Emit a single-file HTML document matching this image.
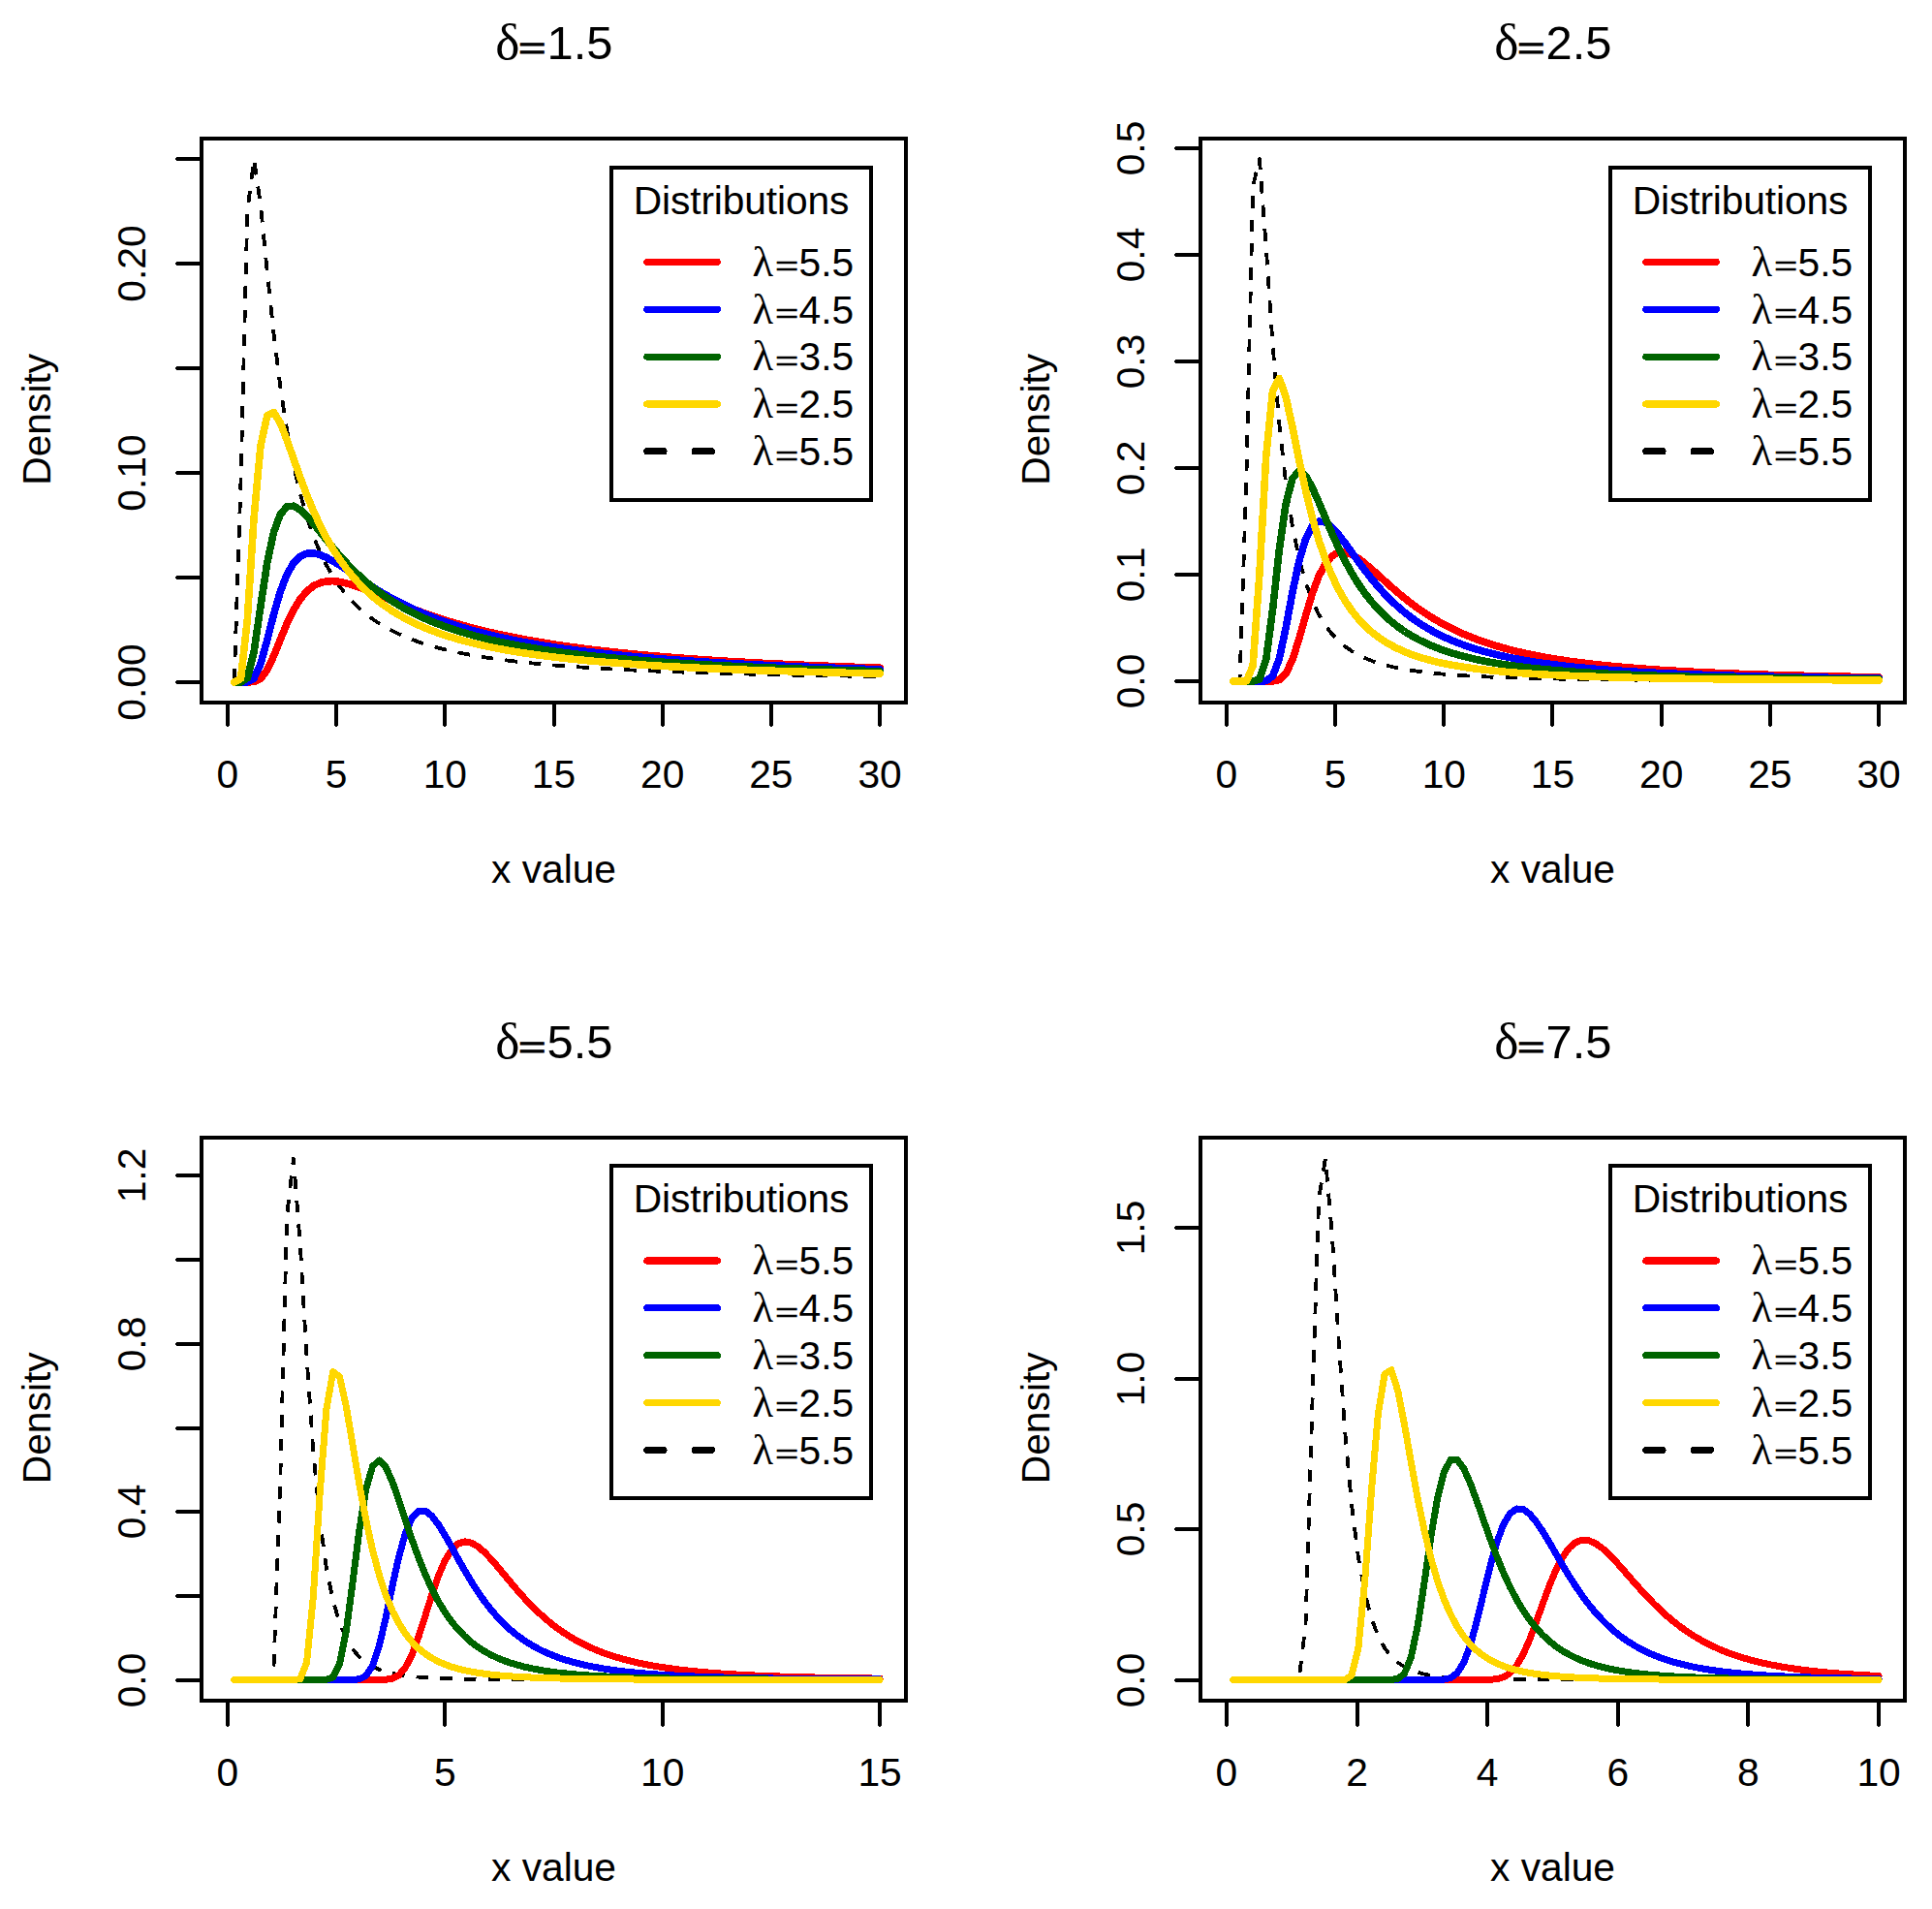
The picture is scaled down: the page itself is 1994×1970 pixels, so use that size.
<!DOCTYPE html>
<html><head><meta charset="utf-8"><title>Density plots</title>
<style>html,body{margin:0;padding:0;background:#fff}svg{display:block}text{fill:#000}</style>
</head><body>
<svg width="1994" height="1970" viewBox="0 0 1994 1970">
<rect width="1994" height="1970" fill="#fff"/>
<g shape-rendering="crispEdges">
<polyline points="241.73,703.04 248.52,495.90 255.32,217.81 262.12,164.16 268.92,211.24 275.72,280.01 282.52,344.66 289.32,399.20 296.12,443.72 302.92,479.79 309.72,509.10 316.52,533.10 323.32,552.90 330.12,569.41 336.92,583.30 343.72,595.08 350.52,605.15 357.32,613.83 364.12,621.37 370.92,627.95 377.71,633.73 384.51,638.84 391.31,643.39 398.11,647.44 404.91,651.07 411.71,654.34 418.51,657.30 425.31,659.98 432.11,662.42 438.91,664.64 445.71,666.68 452.51,668.56 459.31,670.28 466.11,671.87 472.91,673.34 479.71,674.71 486.51,675.98 493.31,677.16 500.11,678.26 506.90,679.29 513.70,680.25 520.50,681.15 527.30,682.00 534.10,682.79 540.90,683.55 547.70,684.25 554.50,684.92 561.30,685.55 568.10,686.15 574.90,686.72 581.70,687.25 588.50,687.76 595.30,688.25 602.10,688.71 608.90,689.15 615.70,689.57 622.50,689.97 629.30,690.35 636.10,690.71 642.89,691.06 649.69,691.40 656.49,691.72 663.29,692.02 670.09,692.32 676.89,692.60 683.69,692.87 690.49,693.13 697.29,693.38 704.09,693.62 710.89,693.85 717.69,694.08 724.49,694.29 731.29,694.50 738.09,694.70 744.89,694.89 751.69,695.08 758.49,695.26 765.29,695.43 772.08,695.60 778.88,695.77 785.68,695.92 792.48,696.08 799.28,696.22 806.08,696.37 812.88,696.51 819.68,696.64 826.48,696.77 833.28,696.90 840.08,697.02 846.88,697.14 853.68,697.26 860.48,697.37 867.28,697.48 874.08,697.59 880.88,697.69 887.68,697.79 894.48,697.89 901.27,697.99 908.07,698.08" fill="none" stroke="#000000" stroke-width="3.8" stroke-dasharray="12.6 12.1" stroke-linejoin="round"/>
<polyline points="241.73,703.91 248.52,703.91 255.32,703.91 262.12,703.54 268.92,700.38 275.72,691.34 282.52,676.88 289.32,660.00 296.12,643.64 302.92,629.57 309.72,618.47 316.52,610.33 323.32,604.82 330.12,601.49 336.92,599.89 343.72,599.63 350.52,600.36 357.32,601.83 364.12,603.82 370.92,606.18 377.71,608.77 384.51,611.51 391.31,614.32 398.11,617.15 404.91,619.96 411.71,622.74 418.51,625.45 425.31,628.08 432.11,630.63 438.91,633.09 445.71,635.45 452.51,637.72 459.31,639.90 466.11,641.99 472.91,643.99 479.71,645.90 486.51,647.73 493.31,649.48 500.11,651.15 506.90,652.75 513.70,654.28 520.50,655.74 527.30,657.14 534.10,658.48 540.90,659.76 547.70,660.99 554.50,662.17 561.30,663.30 568.10,664.38 574.90,665.42 581.70,666.42 588.50,667.38 595.30,668.30 602.10,669.18 608.90,670.03 615.70,670.85 622.50,671.64 629.30,672.39 636.10,673.13 642.89,673.83 649.69,674.51 656.49,675.16 663.29,675.79 670.09,676.40 676.89,676.99 683.69,677.56 690.49,678.11 697.29,678.65 704.09,679.16 710.89,679.66 717.69,680.14 724.49,680.61 731.29,681.06 738.09,681.50 744.89,681.92 751.69,682.33 758.49,682.73 765.29,683.12 772.08,683.50 778.88,683.86 785.68,684.22 792.48,684.56 799.28,684.90 806.08,685.22 812.88,685.54 819.68,685.85 826.48,686.15 833.28,686.44 840.08,686.73 846.88,687.00 853.68,687.27 860.48,687.53 867.28,687.79 874.08,688.04 880.88,688.28 887.68,688.52 894.48,688.75 901.27,688.98 908.07,689.20" fill="none" stroke="#FF0000" stroke-width="7.6" stroke-linejoin="round" stroke-linecap="round"/>
<polyline points="241.73,703.91 248.52,703.91 255.32,703.75 262.12,699.96 268.92,685.26 275.72,660.76 282.52,633.93 289.32,610.55 296.12,592.94 302.92,581.15 309.72,574.27 316.52,571.18 323.32,570.84 330.12,572.44 336.92,575.33 343.72,579.05 350.52,583.27 357.32,587.75 364.12,592.33 370.92,596.89 377.71,601.37 384.51,605.71 391.31,609.89 398.11,613.88 404.91,617.68 411.71,621.29 418.51,624.71 425.31,627.95 432.11,631.01 438.91,633.91 445.71,636.64 452.51,639.22 459.31,641.66 466.11,643.97 472.91,646.16 479.71,648.22 486.51,650.18 493.31,652.03 500.11,653.79 506.90,655.46 513.70,657.04 520.50,658.55 527.30,659.98 534.10,661.34 540.90,662.64 547.70,663.87 554.50,665.05 561.30,666.18 568.10,667.25 574.90,668.28 581.70,669.26 588.50,670.20 595.30,671.09 602.10,671.96 608.90,672.78 615.70,673.57 622.50,674.33 629.30,675.06 636.10,675.76 642.89,676.44 649.69,677.09 656.49,677.71 663.29,678.31 670.09,678.89 676.89,679.45 683.69,679.99 690.49,680.51 697.29,681.01 704.09,681.49 710.89,681.96 717.69,682.41 724.49,682.85 731.29,683.27 738.09,683.68 744.89,684.07 751.69,684.46 758.49,684.83 765.29,685.19 772.08,685.54 778.88,685.88 785.68,686.21 792.48,686.52 799.28,686.83 806.08,687.13 812.88,687.43 819.68,687.71 826.48,687.99 833.28,688.25 840.08,688.52 846.88,688.77 853.68,689.02 860.48,689.26 867.28,689.49 874.08,689.72 880.88,689.94 887.68,690.16 894.48,690.37 901.27,690.58 908.07,690.78" fill="none" stroke="#0000FF" stroke-width="7.6" stroke-linejoin="round" stroke-linecap="round"/>
<polyline points="241.73,703.91 248.52,703.89 255.32,699.71 262.12,672.59 268.92,625.87 275.72,581.03 282.52,549.07 289.32,530.71 296.12,522.88 302.92,522.22 309.72,526.03 316.52,532.44 323.32,540.22 330.12,548.57 336.92,557.03 343.72,565.29 350.52,573.21 357.32,580.68 364.12,587.69 370.92,594.22 377.71,600.29 384.51,605.92 391.31,611.13 398.11,615.96 404.91,620.44 411.71,624.59 418.51,628.44 425.31,632.02 432.11,635.34 438.91,638.44 445.71,641.32 452.51,644.02 459.31,646.54 466.11,648.89 472.91,651.10 479.71,653.17 486.51,655.12 493.31,656.95 500.11,658.68 506.90,660.30 513.70,661.84 520.50,663.29 527.30,664.66 534.10,665.96 540.90,667.19 547.70,668.36 554.50,669.46 561.30,670.52 568.10,671.52 574.90,672.48 581.70,673.39 588.50,674.26 595.30,675.09 602.10,675.88 608.90,676.64 615.70,677.36 622.50,678.06 629.30,678.72 636.10,679.36 642.89,679.97 649.69,680.56 656.49,681.12 663.29,681.66 670.09,682.18 676.89,682.69 683.69,683.17 690.49,683.63 697.29,684.08 704.09,684.52 710.89,684.93 717.69,685.34 724.49,685.72 731.29,686.10 738.09,686.46 744.89,686.81 751.69,687.15 758.49,687.48 765.29,687.80 772.08,688.11 778.88,688.41 785.68,688.70 792.48,688.98 799.28,689.25 806.08,689.51 812.88,689.77 819.68,690.02 826.48,690.26 833.28,690.50 840.08,690.72 846.88,690.95 853.68,691.16 860.48,691.37 867.28,691.58 874.08,691.78 880.88,691.97 887.68,692.16 894.48,692.34 901.27,692.52 908.07,692.70" fill="none" stroke="#006400" stroke-width="7.6" stroke-linejoin="round" stroke-linecap="round"/>
<polyline points="241.73,703.91 248.52,700.30 255.32,638.85 262.12,533.96 268.92,460.39 275.72,429.05 282.52,425.54 289.32,436.55 296.12,453.92 302.92,473.27 309.72,492.43 316.52,510.42 323.32,526.85 330.12,541.65 336.92,554.90 343.72,566.72 350.52,577.25 357.32,586.66 364.12,595.06 370.92,602.60 377.71,609.37 384.51,615.48 391.31,620.99 398.11,625.99 404.91,630.54 411.71,634.68 418.51,638.46 425.31,641.93 432.11,645.11 438.91,648.05 445.71,650.75 452.51,653.25 459.31,655.57 466.11,657.72 472.91,659.72 479.71,661.59 486.51,663.33 493.31,664.96 500.11,666.48 506.90,667.92 513.70,669.26 520.50,670.52 527.30,671.72 534.10,672.84 540.90,673.90 547.70,674.90 554.50,675.85 561.30,676.75 568.10,677.61 574.90,678.42 581.70,679.19 588.50,679.92 595.30,680.62 602.10,681.28 608.90,681.92 615.70,682.52 622.50,683.10 629.30,683.66 636.10,684.19 642.89,684.70 649.69,685.18 656.49,685.65 663.29,686.10 670.09,686.53 676.89,686.94 683.69,687.34 690.49,687.72 697.29,688.09 704.09,688.44 710.89,688.78 717.69,689.11 724.49,689.43 731.29,689.74 738.09,690.03 744.89,690.32 751.69,690.59 758.49,690.86 765.29,691.12 772.08,691.37 778.88,691.61 785.68,691.85 792.48,692.07 799.28,692.29 806.08,692.51 812.88,692.71 819.68,692.92 826.48,693.11 833.28,693.30 840.08,693.48 846.88,693.66 853.68,693.84 860.48,694.01 867.28,694.17 874.08,694.33 880.88,694.49 887.68,694.64 894.48,694.78 901.27,694.93 908.07,695.07" fill="none" stroke="#FFD700" stroke-width="7.6" stroke-linejoin="round" stroke-linecap="round"/>
<rect x="208" y="143" width="727.00" height="582.00" fill="none" stroke="#000" stroke-width="4"/>
<line x1="235" y1="725" x2="235" y2="749.00" stroke="#000" stroke-width="4"/>
<line x1="235" y1="749.00" x2="235" y2="750.00" stroke="#000" stroke-width="2"/>
<text x="234.93" y="812.70" font-family="'Liberation Sans', Arial, Helvetica, sans-serif" font-size="40.74" text-anchor="middle">0</text>
<line x1="347" y1="725" x2="347" y2="749.00" stroke="#000" stroke-width="4"/>
<line x1="347" y1="749.00" x2="347" y2="750.00" stroke="#000" stroke-width="2"/>
<text x="347.12" y="812.70" font-family="'Liberation Sans', Arial, Helvetica, sans-serif" font-size="40.74" text-anchor="middle">5</text>
<line x1="459" y1="725" x2="459" y2="749.00" stroke="#000" stroke-width="4"/>
<line x1="459" y1="749.00" x2="459" y2="750.00" stroke="#000" stroke-width="2"/>
<text x="459.31" y="812.70" font-family="'Liberation Sans', Arial, Helvetica, sans-serif" font-size="40.74" text-anchor="middle">10</text>
<line x1="572" y1="725" x2="572" y2="749.00" stroke="#000" stroke-width="4"/>
<line x1="572" y1="749.00" x2="572" y2="750.00" stroke="#000" stroke-width="2"/>
<text x="571.50" y="812.70" font-family="'Liberation Sans', Arial, Helvetica, sans-serif" font-size="40.74" text-anchor="middle">15</text>
<line x1="684" y1="725" x2="684" y2="749.00" stroke="#000" stroke-width="4"/>
<line x1="684" y1="749.00" x2="684" y2="750.00" stroke="#000" stroke-width="2"/>
<text x="683.69" y="812.70" font-family="'Liberation Sans', Arial, Helvetica, sans-serif" font-size="40.74" text-anchor="middle">20</text>
<line x1="796" y1="725" x2="796" y2="749.00" stroke="#000" stroke-width="4"/>
<line x1="796" y1="749.00" x2="796" y2="750.00" stroke="#000" stroke-width="2"/>
<text x="795.88" y="812.70" font-family="'Liberation Sans', Arial, Helvetica, sans-serif" font-size="40.74" text-anchor="middle">25</text>
<line x1="908" y1="725" x2="908" y2="749.00" stroke="#000" stroke-width="4"/>
<line x1="908" y1="749.00" x2="908" y2="750.00" stroke="#000" stroke-width="2"/>
<text x="908.07" y="812.70" font-family="'Liberation Sans', Arial, Helvetica, sans-serif" font-size="40.74" text-anchor="middle">30</text>
<line x1="208" y1="704" x2="182.00" y2="704" stroke="#000" stroke-width="4"/>
<line x1="182.00" y1="704" x2="181.00" y2="704" stroke="#000" stroke-width="2"/>
<text transform="translate(150.00,704.00) rotate(-90)" font-family="'Liberation Sans', Arial, Helvetica, sans-serif" font-size="40.74" text-anchor="middle">0.00</text>
<line x1="208" y1="596" x2="182.00" y2="596" stroke="#000" stroke-width="4"/>
<line x1="182.00" y1="596" x2="181.00" y2="596" stroke="#000" stroke-width="2"/>
<line x1="208" y1="488" x2="182.00" y2="488" stroke="#000" stroke-width="4"/>
<line x1="182.00" y1="488" x2="181.00" y2="488" stroke="#000" stroke-width="2"/>
<text transform="translate(150.00,488.00) rotate(-90)" font-family="'Liberation Sans', Arial, Helvetica, sans-serif" font-size="40.74" text-anchor="middle">0.10</text>
<line x1="208" y1="380" x2="182.00" y2="380" stroke="#000" stroke-width="4"/>
<line x1="182.00" y1="380" x2="181.00" y2="380" stroke="#000" stroke-width="2"/>
<line x1="208" y1="272" x2="182.00" y2="272" stroke="#000" stroke-width="4"/>
<line x1="182.00" y1="272" x2="181.00" y2="272" stroke="#000" stroke-width="2"/>
<text transform="translate(150.00,272.00) rotate(-90)" font-family="'Liberation Sans', Arial, Helvetica, sans-serif" font-size="40.74" text-anchor="middle">0.20</text>
<line x1="208" y1="164" x2="182.00" y2="164" stroke="#000" stroke-width="4"/>
<line x1="182.00" y1="164" x2="181.00" y2="164" stroke="#000" stroke-width="2"/>
<text x="571.50" y="911.00" font-family="'Liberation Sans', Arial, Helvetica, sans-serif" font-size="40.74" text-anchor="middle">x value</text>
<text transform="translate(52.00,432.80) rotate(-90)" font-family="'Liberation Sans', Arial, Helvetica, sans-serif" font-size="40.74" text-anchor="middle">Density</text>
<text x="511.30" y="60.50" font-family="'Liberation Serif', 'Times New Roman', serif" font-size="53.5">δ</text>
<text transform="translate(535.08,60.01) scale(1.0,0.656)" stroke="#000" stroke-width="1.27" font-family="'Liberation Sans', Arial, Helvetica, sans-serif" font-size="48.9">=</text>
<text x="564.50" y="60.50" font-family="'Liberation Sans', Arial, Helvetica, sans-serif" font-size="48.9">1.5</text>
<rect x="631.00" y="173.00" width="268.00" height="343.00" fill="#fff" stroke="#000" stroke-width="4"/>
<text x="765.00" y="220.80" font-family="'Liberation Sans', Arial, Helvetica, sans-serif" font-size="40.74" text-anchor="middle" letter-spacing="-0.12">Distributions</text>
<line x1="667.90" y1="270.40" x2="740.30" y2="270.40" stroke="#FF0000" stroke-width="7.2" stroke-linecap="round"/>
<text x="776.60" y="284.70" font-family="'Liberation Serif', 'Times New Roman', serif" font-size="44.5">λ</text>
<text transform="translate(800.30,284.29) scale(1.0,0.656)" stroke="#000" stroke-width="1.06" font-family="'Liberation Sans', Arial, Helvetica, sans-serif" font-size="40.74">=</text>
<text x="824.60" y="284.70" font-family="'Liberation Sans', Arial, Helvetica, sans-serif" font-size="40.74">5.5</text>
<line x1="667.90" y1="319.25" x2="740.30" y2="319.25" stroke="#0000FF" stroke-width="7.2" stroke-linecap="round"/>
<text x="776.60" y="333.55" font-family="'Liberation Serif', 'Times New Roman', serif" font-size="44.5">λ</text>
<text transform="translate(800.30,333.14) scale(1.0,0.656)" stroke="#000" stroke-width="1.06" font-family="'Liberation Sans', Arial, Helvetica, sans-serif" font-size="40.74">=</text>
<text x="824.60" y="333.55" font-family="'Liberation Sans', Arial, Helvetica, sans-serif" font-size="40.74">4.5</text>
<line x1="667.90" y1="368.10" x2="740.30" y2="368.10" stroke="#006400" stroke-width="7.2" stroke-linecap="round"/>
<text x="776.60" y="382.40" font-family="'Liberation Serif', 'Times New Roman', serif" font-size="44.5">λ</text>
<text transform="translate(800.30,381.99) scale(1.0,0.656)" stroke="#000" stroke-width="1.06" font-family="'Liberation Sans', Arial, Helvetica, sans-serif" font-size="40.74">=</text>
<text x="824.60" y="382.40" font-family="'Liberation Sans', Arial, Helvetica, sans-serif" font-size="40.74">3.5</text>
<line x1="667.90" y1="416.95" x2="740.30" y2="416.95" stroke="#FFD700" stroke-width="7.2" stroke-linecap="round"/>
<text x="776.60" y="431.25" font-family="'Liberation Serif', 'Times New Roman', serif" font-size="44.5">λ</text>
<text transform="translate(800.30,430.84) scale(1.0,0.656)" stroke="#000" stroke-width="1.06" font-family="'Liberation Sans', Arial, Helvetica, sans-serif" font-size="40.74">=</text>
<text x="824.60" y="431.25" font-family="'Liberation Sans', Arial, Helvetica, sans-serif" font-size="40.74">2.5</text>
<line x1="667.90" y1="465.80" x2="685.00" y2="465.80" stroke="#000000" stroke-width="7.2" stroke-linecap="round"/>
<line x1="717.10" y1="465.80" x2="734.40" y2="465.80" stroke="#000000" stroke-width="7.2" stroke-linecap="round"/>
<text x="776.60" y="480.10" font-family="'Liberation Serif', 'Times New Roman', serif" font-size="44.5">λ</text>
<text transform="translate(800.30,479.69) scale(1.0,0.656)" stroke="#000" stroke-width="1.06" font-family="'Liberation Sans', Arial, Helvetica, sans-serif" font-size="40.74">=</text>
<text x="824.60" y="480.10" font-family="'Liberation Sans', Arial, Helvetica, sans-serif" font-size="40.74">5.5</text>
</g>
<g shape-rendering="crispEdges">
<polyline points="1272.73,703.04 1279.52,701.44 1286.32,496.57 1293.12,192.34 1299.92,164.16 1306.72,255.19 1313.52,355.70 1320.32,437.21 1327.12,498.24 1333.92,543.13 1340.72,576.26 1347.52,601.00 1354.32,619.74 1361.12,634.15 1367.92,645.39 1374.72,654.29 1381.52,661.41 1388.32,667.19 1395.12,671.92 1401.92,675.83 1408.71,679.10 1415.51,681.85 1422.31,684.18 1429.11,686.17 1435.91,687.89 1442.71,689.37 1449.51,690.65 1456.31,691.78 1463.11,692.77 1469.91,693.64 1476.71,694.41 1483.51,695.10 1490.31,695.71 1497.11,696.26 1503.91,696.75 1510.71,697.20 1517.51,697.60 1524.31,697.96 1531.11,698.30 1537.90,698.60 1544.70,698.87 1551.50,699.13 1558.30,699.36 1565.10,699.57 1571.90,699.77 1578.70,699.95 1585.50,700.12 1592.30,700.27 1599.10,700.42 1605.90,700.55 1612.70,700.67 1619.50,700.79 1626.30,700.90 1633.10,701.00 1639.90,701.09 1646.70,701.18 1653.50,701.26 1660.30,701.34 1667.10,701.42 1673.89,701.48 1680.69,701.55 1687.49,701.61 1694.29,701.67 1701.09,701.72 1707.89,701.77 1714.69,701.82 1721.49,701.87 1728.29,701.91 1735.09,701.95 1741.89,701.99 1748.69,702.03 1755.49,702.07 1762.29,702.10 1769.09,702.13 1775.89,702.16 1782.69,702.19 1789.49,702.22 1796.29,702.25 1803.08,702.27 1809.88,702.30 1816.68,702.32 1823.48,702.34 1830.28,702.37 1837.08,702.39 1843.88,702.41 1850.68,702.42 1857.48,702.44 1864.28,702.46 1871.08,702.48 1877.88,702.49 1884.68,702.51 1891.48,702.52 1898.28,702.54 1905.08,702.55 1911.88,702.56 1918.68,702.58 1925.48,702.59 1932.27,702.60 1939.07,702.61" fill="none" stroke="#000000" stroke-width="3.8" stroke-dasharray="12.6 12.1" stroke-linejoin="round"/>
<polyline points="1272.73,703.04 1279.52,703.04 1286.32,703.04 1293.12,703.04 1299.92,703.04 1306.72,703.04 1313.52,702.94 1320.32,701.52 1327.12,695.17 1333.92,680.81 1340.72,659.49 1347.52,635.42 1354.32,612.89 1361.12,594.63 1367.92,581.63 1374.72,573.73 1381.52,570.15 1388.32,569.97 1395.12,572.27 1401.92,576.29 1408.71,581.42 1415.51,587.20 1422.31,593.30 1429.11,599.48 1435.91,605.57 1442.71,611.47 1449.51,617.11 1456.31,622.46 1463.11,627.49 1469.91,632.20 1476.71,636.60 1483.51,640.70 1490.31,644.51 1497.11,648.04 1503.91,651.33 1510.71,654.37 1517.51,657.20 1524.31,659.82 1531.11,662.25 1537.90,664.51 1544.70,666.62 1551.50,668.57 1558.30,670.39 1565.10,672.09 1571.90,673.67 1578.70,675.15 1585.50,676.53 1592.30,677.82 1599.10,679.02 1605.90,680.15 1612.70,681.21 1619.50,682.21 1626.30,683.14 1633.10,684.02 1639.90,684.85 1646.70,685.63 1653.50,686.36 1660.30,687.06 1667.10,687.71 1673.89,688.33 1680.69,688.91 1687.49,689.47 1694.29,689.99 1701.09,690.49 1707.89,690.96 1714.69,691.40 1721.49,691.83 1728.29,692.23 1735.09,692.62 1741.89,692.98 1748.69,693.33 1755.49,693.66 1762.29,693.98 1769.09,694.28 1775.89,694.57 1782.69,694.84 1789.49,695.11 1796.29,695.36 1803.08,695.60 1809.88,695.83 1816.68,696.05 1823.48,696.26 1830.28,696.46 1837.08,696.66 1843.88,696.84 1850.68,697.02 1857.48,697.19 1864.28,697.36 1871.08,697.52 1877.88,697.67 1884.68,697.82 1891.48,697.96 1898.28,698.09 1905.08,698.22 1911.88,698.35 1918.68,698.47 1925.48,698.59 1932.27,698.70 1939.07,698.81" fill="none" stroke="#FF0000" stroke-width="7.6" stroke-linejoin="round" stroke-linecap="round"/>
<polyline points="1272.73,703.04 1279.52,703.04 1286.32,703.04 1293.12,703.04 1299.92,703.04 1306.72,702.66 1313.52,697.71 1320.32,679.76 1327.12,648.04 1333.92,611.41 1340.72,579.22 1347.52,556.22 1354.32,543.00 1361.12,537.99 1367.92,539.04 1374.72,544.14 1381.52,551.70 1388.32,560.58 1395.12,570.00 1401.92,579.43 1408.71,588.58 1415.51,597.25 1422.31,605.36 1429.11,612.86 1435.91,619.77 1442.71,626.09 1449.51,631.87 1456.31,637.14 1463.11,641.95 1469.91,646.32 1476.71,650.31 1483.51,653.96 1490.31,657.28 1497.11,660.32 1503.91,663.10 1510.71,665.64 1517.51,667.98 1524.31,670.13 1531.11,672.10 1537.90,673.92 1544.70,675.60 1551.50,677.15 1558.30,678.59 1565.10,679.92 1571.90,681.15 1578.70,682.30 1585.50,683.36 1592.30,684.35 1599.10,685.28 1605.90,686.14 1612.70,686.95 1619.50,687.70 1626.30,688.41 1633.10,689.08 1639.90,689.70 1646.70,690.28 1653.50,690.83 1660.30,691.35 1667.10,691.84 1673.89,692.30 1680.69,692.74 1687.49,693.15 1694.29,693.54 1701.09,693.90 1707.89,694.25 1714.69,694.58 1721.49,694.90 1728.29,695.19 1735.09,695.48 1741.89,695.75 1748.69,696.00 1755.49,696.24 1762.29,696.48 1769.09,696.70 1775.89,696.91 1782.69,697.11 1789.49,697.30 1796.29,697.49 1803.08,697.66 1809.88,697.83 1816.68,697.99 1823.48,698.14 1830.28,698.29 1837.08,698.43 1843.88,698.57 1850.68,698.70 1857.48,698.82 1864.28,698.94 1871.08,699.06 1877.88,699.17 1884.68,699.28 1891.48,699.38 1898.28,699.48 1905.08,699.57 1911.88,699.66 1918.68,699.75 1925.48,699.84 1932.27,699.92 1939.07,700.00" fill="none" stroke="#0000FF" stroke-width="7.6" stroke-linejoin="round" stroke-linecap="round"/>
<polyline points="1272.73,703.04 1279.52,703.04 1286.32,703.04 1293.12,703.04 1299.92,701.06 1306.72,680.58 1313.52,629.04 1320.32,567.41 1327.12,519.75 1333.92,493.74 1340.72,486.22 1347.52,491.10 1354.32,503.02 1361.12,518.26 1367.92,534.50 1374.72,550.44 1381.52,565.41 1388.32,579.10 1395.12,591.43 1401.92,602.45 1408.71,612.23 1415.51,620.90 1422.31,628.57 1429.11,635.37 1435.91,641.40 1442.71,646.75 1449.51,651.52 1456.31,655.76 1463.11,659.56 1469.91,662.96 1476.71,666.02 1483.51,668.77 1490.31,671.25 1497.11,673.50 1503.91,675.53 1510.71,677.38 1517.51,679.07 1524.31,680.60 1531.11,682.01 1537.90,683.30 1544.70,684.48 1551.50,685.56 1558.30,686.57 1565.10,687.49 1571.90,688.34 1578.70,689.14 1585.50,689.87 1592.30,690.55 1599.10,691.18 1605.90,691.77 1612.70,692.32 1619.50,692.84 1626.30,693.32 1633.10,693.77 1639.90,694.19 1646.70,694.58 1653.50,694.95 1660.30,695.30 1667.10,695.63 1673.89,695.94 1680.69,696.23 1687.49,696.51 1694.29,696.77 1701.09,697.01 1707.89,697.24 1714.69,697.47 1721.49,697.67 1728.29,697.87 1735.09,698.06 1741.89,698.24 1748.69,698.41 1755.49,698.57 1762.29,698.72 1769.09,698.87 1775.89,699.01 1782.69,699.14 1789.49,699.27 1796.29,699.39 1803.08,699.51 1809.88,699.62 1816.68,699.73 1823.48,699.83 1830.28,699.93 1837.08,700.02 1843.88,700.11 1850.68,700.19 1857.48,700.28 1864.28,700.36 1871.08,700.43 1877.88,700.50 1884.68,700.58 1891.48,700.64 1898.28,700.71 1905.08,700.77 1911.88,700.83 1918.68,700.89 1925.48,700.94 1932.27,701.00 1939.07,701.05" fill="none" stroke="#006400" stroke-width="7.6" stroke-linejoin="round" stroke-linecap="round"/>
<polyline points="1272.73,703.04 1279.52,703.04 1286.32,702.98 1293.12,687.07 1299.92,592.19 1306.72,471.14 1313.52,403.15 1320.32,390.53 1327.12,409.37 1333.92,440.77 1340.72,474.49 1347.52,506.00 1354.32,533.73 1361.12,557.43 1367.92,577.42 1374.72,594.21 1381.52,608.30 1388.32,620.15 1395.12,630.15 1401.92,638.62 1408.71,645.84 1415.51,652.02 1422.31,657.34 1429.11,661.94 1435.91,665.93 1442.71,669.41 1449.51,672.46 1456.31,675.15 1463.11,677.52 1469.91,679.63 1476.71,681.50 1483.51,683.18 1490.31,684.68 1497.11,686.02 1503.91,687.24 1510.71,688.34 1517.51,689.33 1524.31,690.24 1531.11,691.06 1537.90,691.81 1544.70,692.50 1551.50,693.13 1558.30,693.71 1565.10,694.25 1571.90,694.74 1578.70,695.19 1585.50,695.61 1592.30,696.00 1599.10,696.37 1605.90,696.70 1612.70,697.02 1619.50,697.31 1626.30,697.58 1633.10,697.84 1639.90,698.08 1646.70,698.30 1653.50,698.51 1660.30,698.71 1667.10,698.89 1673.89,699.07 1680.69,699.23 1687.49,699.39 1694.29,699.54 1701.09,699.67 1707.89,699.80 1714.69,699.93 1721.49,700.05 1728.29,700.16 1735.09,700.26 1741.89,700.36 1748.69,700.46 1755.49,700.55 1762.29,700.64 1769.09,700.72 1775.89,700.80 1782.69,700.87 1789.49,700.94 1796.29,701.01 1803.08,701.08 1809.88,701.14 1816.68,701.20 1823.48,701.25 1830.28,701.31 1837.08,701.36 1843.88,701.41 1850.68,701.46 1857.48,701.50 1864.28,701.55 1871.08,701.59 1877.88,701.63 1884.68,701.67 1891.48,701.71 1898.28,701.74 1905.08,701.78 1911.88,701.81 1918.68,701.85 1925.48,701.88 1932.27,701.91 1939.07,701.94" fill="none" stroke="#FFD700" stroke-width="7.6" stroke-linejoin="round" stroke-linecap="round"/>
<rect x="1239" y="143" width="727.00" height="582.00" fill="none" stroke="#000" stroke-width="4"/>
<line x1="1266" y1="725" x2="1266" y2="749.00" stroke="#000" stroke-width="4"/>
<line x1="1266" y1="749.00" x2="1266" y2="750.00" stroke="#000" stroke-width="2"/>
<text x="1265.93" y="812.70" font-family="'Liberation Sans', Arial, Helvetica, sans-serif" font-size="40.74" text-anchor="middle">0</text>
<line x1="1378" y1="725" x2="1378" y2="749.00" stroke="#000" stroke-width="4"/>
<line x1="1378" y1="749.00" x2="1378" y2="750.00" stroke="#000" stroke-width="2"/>
<text x="1378.12" y="812.70" font-family="'Liberation Sans', Arial, Helvetica, sans-serif" font-size="40.74" text-anchor="middle">5</text>
<line x1="1490" y1="725" x2="1490" y2="749.00" stroke="#000" stroke-width="4"/>
<line x1="1490" y1="749.00" x2="1490" y2="750.00" stroke="#000" stroke-width="2"/>
<text x="1490.31" y="812.70" font-family="'Liberation Sans', Arial, Helvetica, sans-serif" font-size="40.74" text-anchor="middle">10</text>
<line x1="1602" y1="725" x2="1602" y2="749.00" stroke="#000" stroke-width="4"/>
<line x1="1602" y1="749.00" x2="1602" y2="750.00" stroke="#000" stroke-width="2"/>
<text x="1602.50" y="812.70" font-family="'Liberation Sans', Arial, Helvetica, sans-serif" font-size="40.74" text-anchor="middle">15</text>
<line x1="1715" y1="725" x2="1715" y2="749.00" stroke="#000" stroke-width="4"/>
<line x1="1715" y1="749.00" x2="1715" y2="750.00" stroke="#000" stroke-width="2"/>
<text x="1714.69" y="812.70" font-family="'Liberation Sans', Arial, Helvetica, sans-serif" font-size="40.74" text-anchor="middle">20</text>
<line x1="1827" y1="725" x2="1827" y2="749.00" stroke="#000" stroke-width="4"/>
<line x1="1827" y1="749.00" x2="1827" y2="750.00" stroke="#000" stroke-width="2"/>
<text x="1826.88" y="812.70" font-family="'Liberation Sans', Arial, Helvetica, sans-serif" font-size="40.74" text-anchor="middle">25</text>
<line x1="1939" y1="725" x2="1939" y2="749.00" stroke="#000" stroke-width="4"/>
<line x1="1939" y1="749.00" x2="1939" y2="750.00" stroke="#000" stroke-width="2"/>
<text x="1939.07" y="812.70" font-family="'Liberation Sans', Arial, Helvetica, sans-serif" font-size="40.74" text-anchor="middle">30</text>
<line x1="1239" y1="703" x2="1213.00" y2="703" stroke="#000" stroke-width="4"/>
<line x1="1213.00" y1="703" x2="1212.00" y2="703" stroke="#000" stroke-width="2"/>
<text transform="translate(1181.00,703.00) rotate(-90)" font-family="'Liberation Sans', Arial, Helvetica, sans-serif" font-size="40.74" text-anchor="middle">0.0</text>
<line x1="1239" y1="593" x2="1213.00" y2="593" stroke="#000" stroke-width="4"/>
<line x1="1213.00" y1="593" x2="1212.00" y2="593" stroke="#000" stroke-width="2"/>
<text transform="translate(1181.00,593.00) rotate(-90)" font-family="'Liberation Sans', Arial, Helvetica, sans-serif" font-size="40.74" text-anchor="middle">0.1</text>
<line x1="1239" y1="483" x2="1213.00" y2="483" stroke="#000" stroke-width="4"/>
<line x1="1213.00" y1="483" x2="1212.00" y2="483" stroke="#000" stroke-width="2"/>
<text transform="translate(1181.00,483.00) rotate(-90)" font-family="'Liberation Sans', Arial, Helvetica, sans-serif" font-size="40.74" text-anchor="middle">0.2</text>
<line x1="1239" y1="373" x2="1213.00" y2="373" stroke="#000" stroke-width="4"/>
<line x1="1213.00" y1="373" x2="1212.00" y2="373" stroke="#000" stroke-width="2"/>
<text transform="translate(1181.00,373.00) rotate(-90)" font-family="'Liberation Sans', Arial, Helvetica, sans-serif" font-size="40.74" text-anchor="middle">0.3</text>
<line x1="1239" y1="263" x2="1213.00" y2="263" stroke="#000" stroke-width="4"/>
<line x1="1213.00" y1="263" x2="1212.00" y2="263" stroke="#000" stroke-width="2"/>
<text transform="translate(1181.00,263.00) rotate(-90)" font-family="'Liberation Sans', Arial, Helvetica, sans-serif" font-size="40.74" text-anchor="middle">0.4</text>
<line x1="1239" y1="153" x2="1213.00" y2="153" stroke="#000" stroke-width="4"/>
<line x1="1213.00" y1="153" x2="1212.00" y2="153" stroke="#000" stroke-width="2"/>
<text transform="translate(1181.00,153.00) rotate(-90)" font-family="'Liberation Sans', Arial, Helvetica, sans-serif" font-size="40.74" text-anchor="middle">0.5</text>
<text x="1602.50" y="911.00" font-family="'Liberation Sans', Arial, Helvetica, sans-serif" font-size="40.74" text-anchor="middle">x value</text>
<text transform="translate(1083.00,432.80) rotate(-90)" font-family="'Liberation Sans', Arial, Helvetica, sans-serif" font-size="40.74" text-anchor="middle">Density</text>
<text x="1542.30" y="60.50" font-family="'Liberation Serif', 'Times New Roman', serif" font-size="53.5">δ</text>
<text transform="translate(1566.08,60.01) scale(1.0,0.656)" stroke="#000" stroke-width="1.27" font-family="'Liberation Sans', Arial, Helvetica, sans-serif" font-size="48.9">=</text>
<text x="1595.50" y="60.50" font-family="'Liberation Sans', Arial, Helvetica, sans-serif" font-size="48.9">2.5</text>
<rect x="1662.00" y="173.00" width="268.00" height="343.00" fill="#fff" stroke="#000" stroke-width="4"/>
<text x="1796.00" y="220.80" font-family="'Liberation Sans', Arial, Helvetica, sans-serif" font-size="40.74" text-anchor="middle" letter-spacing="-0.12">Distributions</text>
<line x1="1698.90" y1="270.40" x2="1771.30" y2="270.40" stroke="#FF0000" stroke-width="7.2" stroke-linecap="round"/>
<text x="1807.60" y="284.70" font-family="'Liberation Serif', 'Times New Roman', serif" font-size="44.5">λ</text>
<text transform="translate(1831.30,284.29) scale(1.0,0.656)" stroke="#000" stroke-width="1.06" font-family="'Liberation Sans', Arial, Helvetica, sans-serif" font-size="40.74">=</text>
<text x="1855.60" y="284.70" font-family="'Liberation Sans', Arial, Helvetica, sans-serif" font-size="40.74">5.5</text>
<line x1="1698.90" y1="319.25" x2="1771.30" y2="319.25" stroke="#0000FF" stroke-width="7.2" stroke-linecap="round"/>
<text x="1807.60" y="333.55" font-family="'Liberation Serif', 'Times New Roman', serif" font-size="44.5">λ</text>
<text transform="translate(1831.30,333.14) scale(1.0,0.656)" stroke="#000" stroke-width="1.06" font-family="'Liberation Sans', Arial, Helvetica, sans-serif" font-size="40.74">=</text>
<text x="1855.60" y="333.55" font-family="'Liberation Sans', Arial, Helvetica, sans-serif" font-size="40.74">4.5</text>
<line x1="1698.90" y1="368.10" x2="1771.30" y2="368.10" stroke="#006400" stroke-width="7.2" stroke-linecap="round"/>
<text x="1807.60" y="382.40" font-family="'Liberation Serif', 'Times New Roman', serif" font-size="44.5">λ</text>
<text transform="translate(1831.30,381.99) scale(1.0,0.656)" stroke="#000" stroke-width="1.06" font-family="'Liberation Sans', Arial, Helvetica, sans-serif" font-size="40.74">=</text>
<text x="1855.60" y="382.40" font-family="'Liberation Sans', Arial, Helvetica, sans-serif" font-size="40.74">3.5</text>
<line x1="1698.90" y1="416.95" x2="1771.30" y2="416.95" stroke="#FFD700" stroke-width="7.2" stroke-linecap="round"/>
<text x="1807.60" y="431.25" font-family="'Liberation Serif', 'Times New Roman', serif" font-size="44.5">λ</text>
<text transform="translate(1831.30,430.84) scale(1.0,0.656)" stroke="#000" stroke-width="1.06" font-family="'Liberation Sans', Arial, Helvetica, sans-serif" font-size="40.74">=</text>
<text x="1855.60" y="431.25" font-family="'Liberation Sans', Arial, Helvetica, sans-serif" font-size="40.74">2.5</text>
<line x1="1698.90" y1="465.80" x2="1716.00" y2="465.80" stroke="#000000" stroke-width="7.2" stroke-linecap="round"/>
<line x1="1748.10" y1="465.80" x2="1765.40" y2="465.80" stroke="#000000" stroke-width="7.2" stroke-linecap="round"/>
<text x="1807.60" y="480.10" font-family="'Liberation Serif', 'Times New Roman', serif" font-size="44.5">λ</text>
<text transform="translate(1831.30,479.69) scale(1.0,0.656)" stroke="#000" stroke-width="1.06" font-family="'Liberation Sans', Arial, Helvetica, sans-serif" font-size="40.74">=</text>
<text x="1855.60" y="480.10" font-family="'Liberation Sans', Arial, Helvetica, sans-serif" font-size="40.74">5.5</text>
</g>
<g shape-rendering="crispEdges">
<polyline points="241.73,1733.48 248.52,1733.48 255.32,1733.48 262.12,1733.48 268.92,1733.48 275.72,1733.48 282.52,1719.53 289.32,1526.01 296.12,1254.78 302.92,1195.52 309.72,1283.27 316.52,1399.96 323.32,1497.70 330.12,1568.88 336.92,1618.20 343.72,1651.89 350.52,1674.96 357.32,1690.89 364.12,1702.04 370.92,1709.95 377.71,1715.63 384.51,1719.78 391.31,1722.84 398.11,1725.13 404.91,1726.86 411.71,1728.19 418.51,1729.21 425.31,1730.01 432.11,1730.64 438.91,1731.14 445.71,1731.54 452.51,1731.86 459.31,1732.12 466.11,1732.33 472.91,1732.51 479.71,1732.65 486.51,1732.77 493.31,1732.87 500.11,1732.95 506.90,1733.02 513.70,1733.08 520.50,1733.13 527.30,1733.18 534.10,1733.21 540.90,1733.25 547.70,1733.27 554.50,1733.30 561.30,1733.32 568.10,1733.34 574.90,1733.35 581.70,1733.37 588.50,1733.38 595.30,1733.39 602.10,1733.40 608.90,1733.41 615.70,1733.41 622.50,1733.42 629.30,1733.43 636.10,1733.43 642.89,1733.43 649.69,1733.44 656.49,1733.44 663.29,1733.45 670.09,1733.45 676.89,1733.45 683.69,1733.45 690.49,1733.46 697.29,1733.46 704.09,1733.46 710.89,1733.46 717.69,1733.46 724.49,1733.46 731.29,1733.47 738.09,1733.47 744.89,1733.47 751.69,1733.47 758.49,1733.47 765.29,1733.47 772.08,1733.47 778.88,1733.47 785.68,1733.47 792.48,1733.47 799.28,1733.47 806.08,1733.47 812.88,1733.47 819.68,1733.48 826.48,1733.48 833.28,1733.48 840.08,1733.48 846.88,1733.48 853.68,1733.48 860.48,1733.48 867.28,1733.48 874.08,1733.48 880.88,1733.48 887.68,1733.48 894.48,1733.48 901.27,1733.48 908.07,1733.48" fill="none" stroke="#000000" stroke-width="3.8" stroke-dasharray="12.6 12.1" stroke-linejoin="round"/>
<polyline points="241.73,1733.48 248.52,1733.48 255.32,1733.48 262.12,1733.48 268.92,1733.48 275.72,1733.48 282.52,1733.48 289.32,1733.48 296.12,1733.48 302.92,1733.48 309.72,1733.48 316.52,1733.48 323.32,1733.48 330.12,1733.48 336.92,1733.48 343.72,1733.48 350.52,1733.48 357.32,1733.48 364.12,1733.48 370.92,1733.48 377.71,1733.48 384.51,1733.48 391.31,1733.46 398.11,1733.24 404.91,1732.12 411.71,1728.56 418.51,1720.64 425.31,1707.22 432.11,1688.80 438.91,1667.39 445.71,1645.69 452.51,1626.15 459.31,1610.46 466.11,1599.41 472.91,1593.01 479.71,1590.81 486.51,1592.09 493.31,1596.03 500.11,1601.90 506.90,1609.03 513.70,1616.89 520.50,1625.07 527.30,1633.26 534.10,1641.24 540.90,1648.89 547.70,1656.10 554.50,1662.83 561.30,1669.05 568.10,1674.78 574.90,1680.03 581.70,1684.81 588.50,1689.16 595.30,1693.11 602.10,1696.70 608.90,1699.94 615.70,1702.88 622.50,1705.54 629.30,1707.94 636.10,1710.12 642.89,1712.10 649.69,1713.88 656.49,1715.50 663.29,1716.97 670.09,1718.31 676.89,1719.52 683.69,1720.62 690.49,1721.63 697.29,1722.54 704.09,1723.37 710.89,1724.14 717.69,1724.83 724.49,1725.47 731.29,1726.05 738.09,1726.58 744.89,1727.07 751.69,1727.52 758.49,1727.94 765.29,1728.32 772.08,1728.67 778.88,1728.99 785.68,1729.29 792.48,1729.56 799.28,1729.82 806.08,1730.05 812.88,1730.27 819.68,1730.47 826.48,1730.66 833.28,1730.83 840.08,1730.99 846.88,1731.14 853.68,1731.28 860.48,1731.41 867.28,1731.53 874.08,1731.64 880.88,1731.75 887.68,1731.84 894.48,1731.94 901.27,1732.02 908.07,1732.10" fill="none" stroke="#FF0000" stroke-width="7.0" stroke-linejoin="round" stroke-linecap="round"/>
<polyline points="241.73,1733.48 248.52,1733.48 255.32,1733.48 262.12,1733.48 268.92,1733.48 275.72,1733.48 282.52,1733.48 289.32,1733.48 296.12,1733.48 302.92,1733.48 309.72,1733.48 316.52,1733.48 323.32,1733.48 330.12,1733.48 336.92,1733.48 343.72,1733.48 350.52,1733.48 357.32,1733.48 364.12,1733.43 370.92,1732.79 377.71,1729.33 384.51,1718.98 391.31,1698.73 398.11,1669.71 404.91,1636.89 411.71,1606.22 418.51,1582.08 425.31,1566.43 432.11,1559.20 438.91,1559.10 445.71,1564.37 452.51,1573.29 459.31,1584.38 466.11,1596.51 472.91,1608.87 479.71,1620.92 486.51,1632.33 493.31,1642.90 500.11,1652.56 506.90,1661.30 513.70,1669.14 520.50,1676.14 527.30,1682.37 534.10,1687.89 540.90,1692.78 547.70,1697.11 554.50,1700.94 561.30,1704.32 568.10,1707.32 574.90,1709.98 581.70,1712.34 588.50,1714.43 595.30,1716.28 602.10,1717.94 608.90,1719.41 615.70,1720.73 622.50,1721.90 629.30,1722.95 636.10,1723.89 642.89,1724.74 649.69,1725.50 656.49,1726.18 663.29,1726.80 670.09,1727.36 676.89,1727.86 683.69,1728.31 690.49,1728.73 697.29,1729.10 704.09,1729.44 710.89,1729.75 717.69,1730.03 724.49,1730.29 731.29,1730.53 738.09,1730.74 744.89,1730.94 751.69,1731.12 758.49,1731.29 765.29,1731.44 772.08,1731.58 778.88,1731.71 785.68,1731.82 792.48,1731.93 799.28,1732.03 806.08,1732.13 812.88,1732.21 819.68,1732.29 826.48,1732.37 833.28,1732.44 840.08,1732.50 846.88,1732.56 853.68,1732.61 860.48,1732.67 867.28,1732.71 874.08,1732.76 880.88,1732.80 887.68,1732.84 894.48,1732.87 901.27,1732.91 908.07,1732.94" fill="none" stroke="#0000FF" stroke-width="7.0" stroke-linejoin="round" stroke-linecap="round"/>
<polyline points="241.73,1733.48 248.52,1733.48 255.32,1733.48 262.12,1733.48 268.92,1733.48 275.72,1733.48 282.52,1733.48 289.32,1733.48 296.12,1733.48 302.92,1733.48 309.72,1733.48 316.52,1733.48 323.32,1733.48 330.12,1733.48 336.92,1733.32 343.72,1730.74 350.52,1717.15 357.32,1683.19 364.12,1632.07 370.92,1578.58 377.71,1536.88 384.51,1513.28 391.31,1507.03 398.11,1513.87 404.91,1528.96 411.71,1548.25 418.51,1568.89 425.31,1589.09 432.11,1607.88 438.91,1624.80 445.71,1639.72 452.51,1652.70 459.31,1663.89 466.11,1673.49 472.91,1681.69 479.71,1688.69 486.51,1694.67 493.31,1699.77 500.11,1704.13 506.90,1707.86 513.70,1711.07 520.50,1713.82 527.30,1716.19 534.10,1718.23 540.90,1720.01 547.70,1721.54 554.50,1722.88 561.30,1724.05 568.10,1725.06 574.90,1725.96 581.70,1726.74 588.50,1727.43 595.30,1728.04 602.10,1728.58 608.90,1729.05 615.70,1729.48 622.50,1729.85 629.30,1730.19 636.10,1730.49 642.89,1730.76 649.69,1731.00 656.49,1731.21 663.29,1731.41 670.09,1731.58 676.89,1731.74 683.69,1731.88 690.49,1732.01 697.29,1732.13 704.09,1732.23 710.89,1732.33 717.69,1732.42 724.49,1732.50 731.29,1732.57 738.09,1732.64 744.89,1732.70 751.69,1732.75 758.49,1732.80 765.29,1732.85 772.08,1732.90 778.88,1732.93 785.68,1732.97 792.48,1733.01 799.28,1733.04 806.08,1733.07 812.88,1733.09 819.68,1733.12 826.48,1733.14 833.28,1733.16 840.08,1733.18 846.88,1733.20 853.68,1733.22 860.48,1733.23 867.28,1733.25 874.08,1733.26 880.88,1733.27 887.68,1733.28 894.48,1733.29 901.27,1733.31 908.07,1733.31" fill="none" stroke="#006400" stroke-width="7.0" stroke-linejoin="round" stroke-linecap="round"/>
<polyline points="241.73,1733.48 248.52,1733.48 255.32,1733.48 262.12,1733.48 268.92,1733.48 275.72,1733.48 282.52,1733.48 289.32,1733.48 296.12,1733.48 302.92,1733.48 309.72,1732.63 316.52,1715.90 323.32,1647.97 330.12,1541.64 336.92,1453.96 343.72,1415.60 350.52,1420.85 357.32,1451.36 364.12,1491.55 370.92,1532.06 377.71,1568.54 384.51,1599.52 391.31,1625.01 398.11,1645.63 404.91,1662.17 411.71,1675.38 418.51,1685.94 425.31,1694.39 432.11,1701.18 438.91,1706.66 445.71,1711.09 452.51,1714.70 459.31,1717.65 466.11,1720.08 472.91,1722.08 479.71,1723.74 486.51,1725.13 493.31,1726.29 500.11,1727.26 506.90,1728.09 513.70,1728.79 520.50,1729.38 527.30,1729.89 534.10,1730.32 540.90,1730.70 547.70,1731.02 554.50,1731.30 561.30,1731.55 568.10,1731.76 574.90,1731.94 581.70,1732.10 588.50,1732.25 595.30,1732.37 602.10,1732.48 608.90,1732.58 615.70,1732.67 622.50,1732.74 629.30,1732.81 636.10,1732.87 642.89,1732.93 649.69,1732.98 656.49,1733.02 663.29,1733.06 670.09,1733.10 676.89,1733.13 683.69,1733.16 690.49,1733.18 697.29,1733.21 704.09,1733.23 710.89,1733.25 717.69,1733.27 724.49,1733.28 731.29,1733.30 738.09,1733.31 744.89,1733.32 751.69,1733.33 758.49,1733.34 765.29,1733.35 772.08,1733.36 778.88,1733.37 785.68,1733.38 792.48,1733.39 799.28,1733.39 806.08,1733.40 812.88,1733.40 819.68,1733.41 826.48,1733.41 833.28,1733.42 840.08,1733.42 846.88,1733.42 853.68,1733.43 860.48,1733.43 867.28,1733.43 874.08,1733.44 880.88,1733.44 887.68,1733.44 894.48,1733.44 901.27,1733.45 908.07,1733.45" fill="none" stroke="#FFD700" stroke-width="7.0" stroke-linejoin="round" stroke-linecap="round"/>
<rect x="208" y="1174" width="727.00" height="581.00" fill="none" stroke="#000" stroke-width="4"/>
<line x1="235" y1="1755" x2="235" y2="1781.00" stroke="#000" stroke-width="4"/>
<line x1="235" y1="1781.00" x2="235" y2="1782.00" stroke="#000" stroke-width="2"/>
<text x="234.93" y="1842.70" font-family="'Liberation Sans', Arial, Helvetica, sans-serif" font-size="40.74" text-anchor="middle">0</text>
<line x1="459" y1="1755" x2="459" y2="1781.00" stroke="#000" stroke-width="4"/>
<line x1="459" y1="1781.00" x2="459" y2="1782.00" stroke="#000" stroke-width="2"/>
<text x="459.31" y="1842.70" font-family="'Liberation Sans', Arial, Helvetica, sans-serif" font-size="40.74" text-anchor="middle">5</text>
<line x1="684" y1="1755" x2="684" y2="1781.00" stroke="#000" stroke-width="4"/>
<line x1="684" y1="1781.00" x2="684" y2="1782.00" stroke="#000" stroke-width="2"/>
<text x="683.69" y="1842.70" font-family="'Liberation Sans', Arial, Helvetica, sans-serif" font-size="40.74" text-anchor="middle">10</text>
<line x1="908" y1="1755" x2="908" y2="1781.00" stroke="#000" stroke-width="4"/>
<line x1="908" y1="1781.00" x2="908" y2="1782.00" stroke="#000" stroke-width="2"/>
<text x="908.07" y="1842.70" font-family="'Liberation Sans', Arial, Helvetica, sans-serif" font-size="40.74" text-anchor="middle">15</text>
<line x1="208" y1="1734" x2="182.00" y2="1734" stroke="#000" stroke-width="4"/>
<line x1="182.00" y1="1734" x2="181.00" y2="1734" stroke="#000" stroke-width="2"/>
<text transform="translate(150.00,1734.00) rotate(-90)" font-family="'Liberation Sans', Arial, Helvetica, sans-serif" font-size="40.74" text-anchor="middle">0.0</text>
<line x1="208" y1="1647" x2="182.00" y2="1647" stroke="#000" stroke-width="4"/>
<line x1="182.00" y1="1647" x2="181.00" y2="1647" stroke="#000" stroke-width="2"/>
<line x1="208" y1="1560" x2="182.00" y2="1560" stroke="#000" stroke-width="4"/>
<line x1="182.00" y1="1560" x2="181.00" y2="1560" stroke="#000" stroke-width="2"/>
<text transform="translate(150.00,1560.00) rotate(-90)" font-family="'Liberation Sans', Arial, Helvetica, sans-serif" font-size="40.74" text-anchor="middle">0.4</text>
<line x1="208" y1="1474" x2="182.00" y2="1474" stroke="#000" stroke-width="4"/>
<line x1="182.00" y1="1474" x2="181.00" y2="1474" stroke="#000" stroke-width="2"/>
<line x1="208" y1="1387" x2="182.00" y2="1387" stroke="#000" stroke-width="4"/>
<line x1="182.00" y1="1387" x2="181.00" y2="1387" stroke="#000" stroke-width="2"/>
<text transform="translate(150.00,1387.00) rotate(-90)" font-family="'Liberation Sans', Arial, Helvetica, sans-serif" font-size="40.74" text-anchor="middle">0.8</text>
<line x1="208" y1="1300" x2="182.00" y2="1300" stroke="#000" stroke-width="4"/>
<line x1="182.00" y1="1300" x2="181.00" y2="1300" stroke="#000" stroke-width="2"/>
<line x1="208" y1="1213" x2="182.00" y2="1213" stroke="#000" stroke-width="4"/>
<line x1="182.00" y1="1213" x2="181.00" y2="1213" stroke="#000" stroke-width="2"/>
<text transform="translate(150.00,1213.00) rotate(-90)" font-family="'Liberation Sans', Arial, Helvetica, sans-serif" font-size="40.74" text-anchor="middle">1.2</text>
<text x="571.50" y="1941.00" font-family="'Liberation Sans', Arial, Helvetica, sans-serif" font-size="40.74" text-anchor="middle">x value</text>
<text transform="translate(52.00,1463.30) rotate(-90)" font-family="'Liberation Sans', Arial, Helvetica, sans-serif" font-size="40.74" text-anchor="middle">Density</text>
<text x="511.30" y="1091.50" font-family="'Liberation Serif', 'Times New Roman', serif" font-size="53.5">δ</text>
<text transform="translate(535.08,1091.01) scale(1.0,0.656)" stroke="#000" stroke-width="1.27" font-family="'Liberation Sans', Arial, Helvetica, sans-serif" font-size="48.9">=</text>
<text x="564.50" y="1091.50" font-family="'Liberation Sans', Arial, Helvetica, sans-serif" font-size="48.9">5.5</text>
<rect x="631.00" y="1203.00" width="268.00" height="343.00" fill="#fff" stroke="#000" stroke-width="4"/>
<text x="765.00" y="1251.40" font-family="'Liberation Sans', Arial, Helvetica, sans-serif" font-size="40.74" text-anchor="middle" letter-spacing="-0.12">Distributions</text>
<line x1="667.90" y1="1301.00" x2="740.30" y2="1301.00" stroke="#FF0000" stroke-width="7.2" stroke-linecap="round"/>
<text x="776.60" y="1315.30" font-family="'Liberation Serif', 'Times New Roman', serif" font-size="44.5">λ</text>
<text transform="translate(800.30,1314.89) scale(1.0,0.656)" stroke="#000" stroke-width="1.06" font-family="'Liberation Sans', Arial, Helvetica, sans-serif" font-size="40.74">=</text>
<text x="824.60" y="1315.30" font-family="'Liberation Sans', Arial, Helvetica, sans-serif" font-size="40.74">5.5</text>
<line x1="667.90" y1="1349.85" x2="740.30" y2="1349.85" stroke="#0000FF" stroke-width="7.2" stroke-linecap="round"/>
<text x="776.60" y="1364.15" font-family="'Liberation Serif', 'Times New Roman', serif" font-size="44.5">λ</text>
<text transform="translate(800.30,1363.74) scale(1.0,0.656)" stroke="#000" stroke-width="1.06" font-family="'Liberation Sans', Arial, Helvetica, sans-serif" font-size="40.74">=</text>
<text x="824.60" y="1364.15" font-family="'Liberation Sans', Arial, Helvetica, sans-serif" font-size="40.74">4.5</text>
<line x1="667.90" y1="1398.70" x2="740.30" y2="1398.70" stroke="#006400" stroke-width="7.2" stroke-linecap="round"/>
<text x="776.60" y="1413.00" font-family="'Liberation Serif', 'Times New Roman', serif" font-size="44.5">λ</text>
<text transform="translate(800.30,1412.59) scale(1.0,0.656)" stroke="#000" stroke-width="1.06" font-family="'Liberation Sans', Arial, Helvetica, sans-serif" font-size="40.74">=</text>
<text x="824.60" y="1413.00" font-family="'Liberation Sans', Arial, Helvetica, sans-serif" font-size="40.74">3.5</text>
<line x1="667.90" y1="1447.55" x2="740.30" y2="1447.55" stroke="#FFD700" stroke-width="7.2" stroke-linecap="round"/>
<text x="776.60" y="1461.85" font-family="'Liberation Serif', 'Times New Roman', serif" font-size="44.5">λ</text>
<text transform="translate(800.30,1461.44) scale(1.0,0.656)" stroke="#000" stroke-width="1.06" font-family="'Liberation Sans', Arial, Helvetica, sans-serif" font-size="40.74">=</text>
<text x="824.60" y="1461.85" font-family="'Liberation Sans', Arial, Helvetica, sans-serif" font-size="40.74">2.5</text>
<line x1="667.90" y1="1496.40" x2="685.00" y2="1496.40" stroke="#000000" stroke-width="7.2" stroke-linecap="round"/>
<line x1="717.10" y1="1496.40" x2="734.40" y2="1496.40" stroke="#000000" stroke-width="7.2" stroke-linecap="round"/>
<text x="776.60" y="1510.70" font-family="'Liberation Serif', 'Times New Roman', serif" font-size="44.5">λ</text>
<text transform="translate(800.30,1510.29) scale(1.0,0.656)" stroke="#000" stroke-width="1.06" font-family="'Liberation Sans', Arial, Helvetica, sans-serif" font-size="40.74">=</text>
<text x="824.60" y="1510.70" font-family="'Liberation Sans', Arial, Helvetica, sans-serif" font-size="40.74">5.5</text>
</g>
<g shape-rendering="crispEdges">
<polyline points="1272.73,1733.48 1279.52,1733.48 1286.32,1733.48 1293.12,1733.48 1299.92,1733.48 1306.72,1733.48 1313.52,1733.48 1320.32,1733.48 1327.12,1733.48 1333.92,1733.48 1340.72,1732.27 1347.52,1676.40 1354.32,1452.43 1361.12,1237.64 1367.92,1195.52 1374.72,1272.66 1381.52,1381.68 1388.32,1479.07 1395.12,1553.62 1401.92,1607.08 1408.71,1644.41 1415.51,1670.25 1422.31,1688.16 1429.11,1700.65 1435.91,1709.44 1442.71,1715.68 1449.51,1720.17 1456.31,1723.42 1463.11,1725.81 1469.91,1727.58 1476.71,1728.90 1483.51,1729.90 1490.31,1730.65 1497.11,1731.24 1503.91,1731.69 1510.71,1732.04 1517.51,1732.31 1524.31,1732.53 1531.11,1732.70 1537.90,1732.84 1544.70,1732.95 1551.50,1733.04 1558.30,1733.11 1565.10,1733.17 1571.90,1733.22 1578.70,1733.26 1585.50,1733.30 1592.30,1733.32 1599.10,1733.35 1605.90,1733.37 1612.70,1733.38 1619.50,1733.40 1626.30,1733.41 1633.10,1733.42 1639.90,1733.43 1646.70,1733.43 1653.50,1733.44 1660.30,1733.44 1667.10,1733.45 1673.89,1733.45 1680.69,1733.46 1687.49,1733.46 1694.29,1733.46 1701.09,1733.46 1707.89,1733.47 1714.69,1733.47 1721.49,1733.47 1728.29,1733.47 1735.09,1733.47 1741.89,1733.47 1748.69,1733.47 1755.49,1733.47 1762.29,1733.48 1769.09,1733.48 1775.89,1733.48 1782.69,1733.48 1789.49,1733.48 1796.29,1733.48 1803.08,1733.48 1809.88,1733.48 1816.68,1733.48 1823.48,1733.48 1830.28,1733.48 1837.08,1733.48 1843.88,1733.48 1850.68,1733.48 1857.48,1733.48 1864.28,1733.48 1871.08,1733.48 1877.88,1733.48 1884.68,1733.48 1891.48,1733.48 1898.28,1733.48 1905.08,1733.48 1911.88,1733.48 1918.68,1733.48 1925.48,1733.48 1932.27,1733.48 1939.07,1733.48" fill="none" stroke="#000000" stroke-width="3.8" stroke-dasharray="12.6 12.1" stroke-linejoin="round"/>
<polyline points="1272.73,1733.48 1279.52,1733.48 1286.32,1733.48 1293.12,1733.48 1299.92,1733.48 1306.72,1733.48 1313.52,1733.48 1320.32,1733.48 1327.12,1733.48 1333.92,1733.48 1340.72,1733.48 1347.52,1733.48 1354.32,1733.48 1361.12,1733.48 1367.92,1733.48 1374.72,1733.48 1381.52,1733.48 1388.32,1733.48 1395.12,1733.48 1401.92,1733.48 1408.71,1733.48 1415.51,1733.48 1422.31,1733.48 1429.11,1733.48 1435.91,1733.48 1442.71,1733.48 1449.51,1733.48 1456.31,1733.48 1463.11,1733.48 1469.91,1733.48 1476.71,1733.48 1483.51,1733.48 1490.31,1733.48 1497.11,1733.48 1503.91,1733.48 1510.71,1733.48 1517.51,1733.48 1524.31,1733.48 1531.11,1733.46 1537.90,1733.31 1544.70,1732.70 1551.50,1730.87 1558.30,1726.72 1565.10,1719.11 1571.90,1707.46 1578.70,1692.02 1585.50,1673.92 1592.30,1654.79 1599.10,1636.36 1605.90,1620.08 1612.70,1606.95 1619.50,1597.44 1626.30,1591.62 1633.10,1589.22 1639.90,1589.77 1646.70,1592.74 1653.50,1597.56 1660.30,1603.73 1667.10,1610.79 1673.89,1618.37 1680.69,1626.17 1687.49,1633.97 1694.29,1641.59 1701.09,1648.92 1707.89,1655.87 1714.69,1662.41 1721.49,1668.51 1728.29,1674.16 1735.09,1679.37 1741.89,1684.15 1748.69,1688.53 1755.49,1692.53 1762.29,1696.17 1769.09,1699.48 1775.89,1702.50 1782.69,1705.23 1789.49,1707.72 1796.29,1709.97 1803.08,1712.01 1809.88,1713.87 1816.68,1715.55 1823.48,1717.08 1830.28,1718.46 1837.08,1719.72 1843.88,1720.87 1850.68,1721.91 1857.48,1722.85 1864.28,1723.71 1871.08,1724.50 1877.88,1725.21 1884.68,1725.87 1891.48,1726.46 1898.28,1727.01 1905.08,1727.50 1911.88,1727.96 1918.68,1728.38 1925.48,1728.76 1932.27,1729.11 1939.07,1729.43" fill="none" stroke="#FF0000" stroke-width="7.0" stroke-linejoin="round" stroke-linecap="round"/>
<polyline points="1272.73,1733.48 1279.52,1733.48 1286.32,1733.48 1293.12,1733.48 1299.92,1733.48 1306.72,1733.48 1313.52,1733.48 1320.32,1733.48 1327.12,1733.48 1333.92,1733.48 1340.72,1733.48 1347.52,1733.48 1354.32,1733.48 1361.12,1733.48 1367.92,1733.48 1374.72,1733.48 1381.52,1733.48 1388.32,1733.48 1395.12,1733.48 1401.92,1733.48 1408.71,1733.48 1415.51,1733.48 1422.31,1733.48 1429.11,1733.48 1435.91,1733.48 1442.71,1733.48 1449.51,1733.48 1456.31,1733.48 1463.11,1733.48 1469.91,1733.48 1476.71,1733.48 1483.51,1733.44 1490.31,1733.11 1497.11,1731.53 1503.91,1726.59 1510.71,1715.75 1517.51,1697.54 1524.31,1672.80 1531.11,1644.50 1537.90,1616.48 1544.70,1592.15 1551.50,1573.74 1558.30,1562.08 1565.10,1556.94 1571.90,1557.42 1578.70,1562.30 1585.50,1570.36 1592.30,1580.48 1599.10,1591.75 1605.90,1603.47 1612.70,1615.13 1619.50,1626.38 1626.30,1636.99 1633.10,1646.85 1639.90,1655.90 1646.70,1664.12 1653.50,1671.55 1660.30,1678.22 1667.10,1684.19 1673.89,1689.51 1680.69,1694.24 1687.49,1698.46 1694.29,1702.19 1701.09,1705.51 1707.89,1708.46 1714.69,1711.07 1721.49,1713.39 1728.29,1715.45 1735.09,1717.28 1741.89,1718.91 1748.69,1720.36 1755.49,1721.66 1762.29,1722.81 1769.09,1723.84 1775.89,1724.76 1782.69,1725.58 1789.49,1726.32 1796.29,1726.98 1803.08,1727.57 1809.88,1728.11 1816.68,1728.59 1823.48,1729.02 1830.28,1729.41 1837.08,1729.76 1843.88,1730.08 1850.68,1730.37 1857.48,1730.63 1864.28,1730.86 1871.08,1731.08 1877.88,1731.27 1884.68,1731.45 1891.48,1731.61 1898.28,1731.76 1905.08,1731.89 1911.88,1732.02 1918.68,1732.13 1925.48,1732.23 1932.27,1732.32 1939.07,1732.41" fill="none" stroke="#0000FF" stroke-width="7.0" stroke-linejoin="round" stroke-linecap="round"/>
<polyline points="1272.73,1733.48 1279.52,1733.48 1286.32,1733.48 1293.12,1733.48 1299.92,1733.48 1306.72,1733.48 1313.52,1733.48 1320.32,1733.48 1327.12,1733.48 1333.92,1733.48 1340.72,1733.48 1347.52,1733.48 1354.32,1733.48 1361.12,1733.48 1367.92,1733.48 1374.72,1733.48 1381.52,1733.48 1388.32,1733.48 1395.12,1733.48 1401.92,1733.48 1408.71,1733.48 1415.51,1733.48 1422.31,1733.48 1429.11,1733.48 1435.91,1733.41 1442.71,1732.44 1449.51,1726.98 1456.31,1710.38 1463.11,1678.27 1469.91,1633.91 1476.71,1586.71 1483.51,1546.52 1490.31,1519.33 1497.11,1506.53 1503.91,1506.34 1510.71,1515.52 1517.51,1530.72 1524.31,1549.13 1531.11,1568.66 1537.90,1587.89 1544.70,1606.00 1551.50,1622.54 1558.30,1637.32 1565.10,1650.36 1571.90,1661.73 1578.70,1671.58 1585.50,1680.07 1592.30,1687.37 1599.10,1693.64 1605.90,1699.00 1612.70,1703.60 1619.50,1707.55 1626.30,1710.93 1633.10,1713.84 1639.90,1716.34 1646.70,1718.49 1653.50,1720.34 1660.30,1721.95 1667.10,1723.34 1673.89,1724.54 1680.69,1725.59 1687.49,1726.50 1694.29,1727.30 1701.09,1727.99 1707.89,1728.60 1714.69,1729.13 1721.49,1729.60 1728.29,1730.01 1735.09,1730.38 1741.89,1730.70 1748.69,1730.98 1755.49,1731.24 1762.29,1731.46 1769.09,1731.66 1775.89,1731.83 1782.69,1731.99 1789.49,1732.13 1796.29,1732.26 1803.08,1732.37 1809.88,1732.47 1816.68,1732.56 1823.48,1732.65 1830.28,1732.72 1837.08,1732.79 1843.88,1732.85 1850.68,1732.90 1857.48,1732.95 1864.28,1732.99 1871.08,1733.03 1877.88,1733.07 1884.68,1733.10 1891.48,1733.13 1898.28,1733.16 1905.08,1733.19 1911.88,1733.21 1918.68,1733.23 1925.48,1733.25 1932.27,1733.27 1939.07,1733.28" fill="none" stroke="#006400" stroke-width="7.0" stroke-linejoin="round" stroke-linecap="round"/>
<polyline points="1272.73,1733.48 1279.52,1733.48 1286.32,1733.48 1293.12,1733.48 1299.92,1733.48 1306.72,1733.48 1313.52,1733.48 1320.32,1733.48 1327.12,1733.48 1333.92,1733.48 1340.72,1733.48 1347.52,1733.48 1354.32,1733.48 1361.12,1733.48 1367.92,1733.48 1374.72,1733.48 1381.52,1733.48 1388.32,1733.28 1395.12,1728.62 1401.92,1700.46 1408.71,1631.02 1415.51,1538.10 1422.31,1459.54 1429.11,1418.06 1435.91,1413.77 1442.71,1435.25 1449.51,1469.94 1456.31,1508.63 1463.11,1545.88 1469.91,1579.12 1476.71,1607.48 1483.51,1631.05 1490.31,1650.33 1497.11,1665.94 1503.91,1678.53 1510.71,1688.66 1517.51,1696.81 1524.31,1703.37 1531.11,1708.66 1537.90,1712.95 1544.70,1716.43 1551.50,1719.27 1558.30,1721.59 1565.10,1723.49 1571.90,1725.06 1578.70,1726.36 1585.50,1727.44 1592.30,1728.33 1599.10,1729.08 1605.90,1729.71 1612.70,1730.24 1619.50,1730.69 1626.30,1731.07 1633.10,1731.39 1639.90,1731.66 1646.70,1731.90 1653.50,1732.10 1660.30,1732.27 1667.10,1732.42 1673.89,1732.55 1680.69,1732.66 1687.49,1732.75 1694.29,1732.84 1701.09,1732.91 1707.89,1732.97 1714.69,1733.03 1721.49,1733.08 1728.29,1733.12 1735.09,1733.16 1741.89,1733.19 1748.69,1733.22 1755.49,1733.25 1762.29,1733.27 1769.09,1733.29 1775.89,1733.31 1782.69,1733.33 1789.49,1733.34 1796.29,1733.36 1803.08,1733.37 1809.88,1733.38 1816.68,1733.39 1823.48,1733.40 1830.28,1733.40 1837.08,1733.41 1843.88,1733.42 1850.68,1733.42 1857.48,1733.43 1864.28,1733.43 1871.08,1733.44 1877.88,1733.44 1884.68,1733.44 1891.48,1733.45 1898.28,1733.45 1905.08,1733.45 1911.88,1733.45 1918.68,1733.46 1925.48,1733.46 1932.27,1733.46 1939.07,1733.46" fill="none" stroke="#FFD700" stroke-width="7.0" stroke-linejoin="round" stroke-linecap="round"/>
<rect x="1239" y="1174" width="727.00" height="581.00" fill="none" stroke="#000" stroke-width="4"/>
<line x1="1266" y1="1755" x2="1266" y2="1781.00" stroke="#000" stroke-width="4"/>
<line x1="1266" y1="1781.00" x2="1266" y2="1782.00" stroke="#000" stroke-width="2"/>
<text x="1265.93" y="1842.70" font-family="'Liberation Sans', Arial, Helvetica, sans-serif" font-size="40.74" text-anchor="middle">0</text>
<line x1="1401" y1="1755" x2="1401" y2="1781.00" stroke="#000" stroke-width="4"/>
<line x1="1401" y1="1781.00" x2="1401" y2="1782.00" stroke="#000" stroke-width="2"/>
<text x="1400.56" y="1842.70" font-family="'Liberation Sans', Arial, Helvetica, sans-serif" font-size="40.74" text-anchor="middle">2</text>
<line x1="1535" y1="1755" x2="1535" y2="1781.00" stroke="#000" stroke-width="4"/>
<line x1="1535" y1="1781.00" x2="1535" y2="1782.00" stroke="#000" stroke-width="2"/>
<text x="1535.19" y="1842.70" font-family="'Liberation Sans', Arial, Helvetica, sans-serif" font-size="40.74" text-anchor="middle">4</text>
<line x1="1670" y1="1755" x2="1670" y2="1781.00" stroke="#000" stroke-width="4"/>
<line x1="1670" y1="1781.00" x2="1670" y2="1782.00" stroke="#000" stroke-width="2"/>
<text x="1669.81" y="1842.70" font-family="'Liberation Sans', Arial, Helvetica, sans-serif" font-size="40.74" text-anchor="middle">6</text>
<line x1="1804" y1="1755" x2="1804" y2="1781.00" stroke="#000" stroke-width="4"/>
<line x1="1804" y1="1781.00" x2="1804" y2="1782.00" stroke="#000" stroke-width="2"/>
<text x="1804.44" y="1842.70" font-family="'Liberation Sans', Arial, Helvetica, sans-serif" font-size="40.74" text-anchor="middle">8</text>
<line x1="1939" y1="1755" x2="1939" y2="1781.00" stroke="#000" stroke-width="4"/>
<line x1="1939" y1="1781.00" x2="1939" y2="1782.00" stroke="#000" stroke-width="2"/>
<text x="1939.07" y="1842.70" font-family="'Liberation Sans', Arial, Helvetica, sans-serif" font-size="40.74" text-anchor="middle">10</text>
<line x1="1239" y1="1734" x2="1213.00" y2="1734" stroke="#000" stroke-width="4"/>
<line x1="1213.00" y1="1734" x2="1212.00" y2="1734" stroke="#000" stroke-width="2"/>
<text transform="translate(1181.00,1734.00) rotate(-90)" font-family="'Liberation Sans', Arial, Helvetica, sans-serif" font-size="40.74" text-anchor="middle">0.0</text>
<line x1="1239" y1="1578" x2="1213.00" y2="1578" stroke="#000" stroke-width="4"/>
<line x1="1213.00" y1="1578" x2="1212.00" y2="1578" stroke="#000" stroke-width="2"/>
<text transform="translate(1181.00,1578.00) rotate(-90)" font-family="'Liberation Sans', Arial, Helvetica, sans-serif" font-size="40.74" text-anchor="middle">0.5</text>
<line x1="1239" y1="1423" x2="1213.00" y2="1423" stroke="#000" stroke-width="4"/>
<line x1="1213.00" y1="1423" x2="1212.00" y2="1423" stroke="#000" stroke-width="2"/>
<text transform="translate(1181.00,1423.00) rotate(-90)" font-family="'Liberation Sans', Arial, Helvetica, sans-serif" font-size="40.74" text-anchor="middle">1.0</text>
<line x1="1239" y1="1267" x2="1213.00" y2="1267" stroke="#000" stroke-width="4"/>
<line x1="1213.00" y1="1267" x2="1212.00" y2="1267" stroke="#000" stroke-width="2"/>
<text transform="translate(1181.00,1267.00) rotate(-90)" font-family="'Liberation Sans', Arial, Helvetica, sans-serif" font-size="40.74" text-anchor="middle">1.5</text>
<text x="1602.50" y="1941.00" font-family="'Liberation Sans', Arial, Helvetica, sans-serif" font-size="40.74" text-anchor="middle">x value</text>
<text transform="translate(1083.00,1463.30) rotate(-90)" font-family="'Liberation Sans', Arial, Helvetica, sans-serif" font-size="40.74" text-anchor="middle">Density</text>
<text x="1542.30" y="1091.50" font-family="'Liberation Serif', 'Times New Roman', serif" font-size="53.5">δ</text>
<text transform="translate(1566.08,1091.01) scale(1.0,0.656)" stroke="#000" stroke-width="1.27" font-family="'Liberation Sans', Arial, Helvetica, sans-serif" font-size="48.9">=</text>
<text x="1595.50" y="1091.50" font-family="'Liberation Sans', Arial, Helvetica, sans-serif" font-size="48.9">7.5</text>
<rect x="1662.00" y="1203.00" width="268.00" height="343.00" fill="#fff" stroke="#000" stroke-width="4"/>
<text x="1796.00" y="1251.40" font-family="'Liberation Sans', Arial, Helvetica, sans-serif" font-size="40.74" text-anchor="middle" letter-spacing="-0.12">Distributions</text>
<line x1="1698.90" y1="1301.00" x2="1771.30" y2="1301.00" stroke="#FF0000" stroke-width="7.2" stroke-linecap="round"/>
<text x="1807.60" y="1315.30" font-family="'Liberation Serif', 'Times New Roman', serif" font-size="44.5">λ</text>
<text transform="translate(1831.30,1314.89) scale(1.0,0.656)" stroke="#000" stroke-width="1.06" font-family="'Liberation Sans', Arial, Helvetica, sans-serif" font-size="40.74">=</text>
<text x="1855.60" y="1315.30" font-family="'Liberation Sans', Arial, Helvetica, sans-serif" font-size="40.74">5.5</text>
<line x1="1698.90" y1="1349.85" x2="1771.30" y2="1349.85" stroke="#0000FF" stroke-width="7.2" stroke-linecap="round"/>
<text x="1807.60" y="1364.15" font-family="'Liberation Serif', 'Times New Roman', serif" font-size="44.5">λ</text>
<text transform="translate(1831.30,1363.74) scale(1.0,0.656)" stroke="#000" stroke-width="1.06" font-family="'Liberation Sans', Arial, Helvetica, sans-serif" font-size="40.74">=</text>
<text x="1855.60" y="1364.15" font-family="'Liberation Sans', Arial, Helvetica, sans-serif" font-size="40.74">4.5</text>
<line x1="1698.90" y1="1398.70" x2="1771.30" y2="1398.70" stroke="#006400" stroke-width="7.2" stroke-linecap="round"/>
<text x="1807.60" y="1413.00" font-family="'Liberation Serif', 'Times New Roman', serif" font-size="44.5">λ</text>
<text transform="translate(1831.30,1412.59) scale(1.0,0.656)" stroke="#000" stroke-width="1.06" font-family="'Liberation Sans', Arial, Helvetica, sans-serif" font-size="40.74">=</text>
<text x="1855.60" y="1413.00" font-family="'Liberation Sans', Arial, Helvetica, sans-serif" font-size="40.74">3.5</text>
<line x1="1698.90" y1="1447.55" x2="1771.30" y2="1447.55" stroke="#FFD700" stroke-width="7.2" stroke-linecap="round"/>
<text x="1807.60" y="1461.85" font-family="'Liberation Serif', 'Times New Roman', serif" font-size="44.5">λ</text>
<text transform="translate(1831.30,1461.44) scale(1.0,0.656)" stroke="#000" stroke-width="1.06" font-family="'Liberation Sans', Arial, Helvetica, sans-serif" font-size="40.74">=</text>
<text x="1855.60" y="1461.85" font-family="'Liberation Sans', Arial, Helvetica, sans-serif" font-size="40.74">2.5</text>
<line x1="1698.90" y1="1496.40" x2="1716.00" y2="1496.40" stroke="#000000" stroke-width="7.2" stroke-linecap="round"/>
<line x1="1748.10" y1="1496.40" x2="1765.40" y2="1496.40" stroke="#000000" stroke-width="7.2" stroke-linecap="round"/>
<text x="1807.60" y="1510.70" font-family="'Liberation Serif', 'Times New Roman', serif" font-size="44.5">λ</text>
<text transform="translate(1831.30,1510.29) scale(1.0,0.656)" stroke="#000" stroke-width="1.06" font-family="'Liberation Sans', Arial, Helvetica, sans-serif" font-size="40.74">=</text>
<text x="1855.60" y="1510.70" font-family="'Liberation Sans', Arial, Helvetica, sans-serif" font-size="40.74">5.5</text>
</g>
</svg>
</body></html>
